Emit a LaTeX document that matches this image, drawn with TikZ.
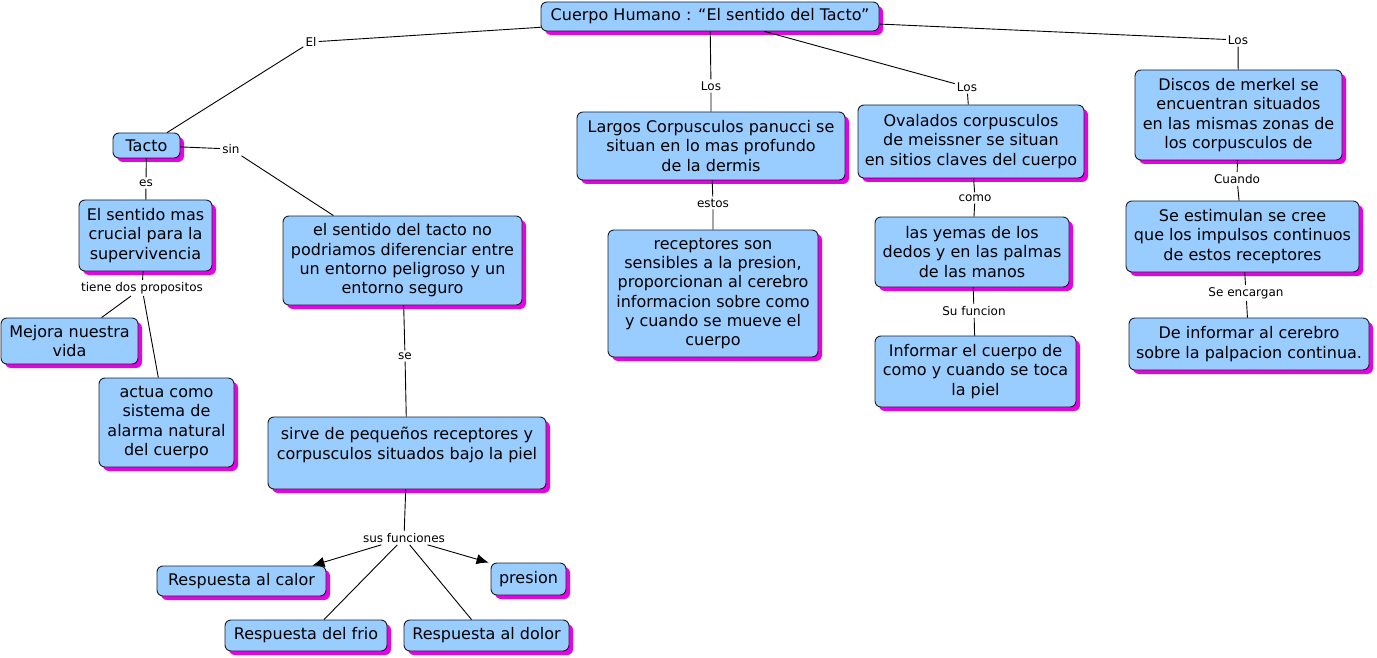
\documentclass[tikz,border=0pt]{standalone}
\usepackage{fontspec}
\setmainfont{DejaVu Sans}
\usetikzlibrary{arrows.meta, shadows}
\definecolor{conceptfill}{RGB}{153,204,255}
\definecolor{conceptdraw}{RGB}{30,30,40}
\definecolor{shadowmag}{RGB}{232,0,232}
\tikzset{
  concept/.style={rectangle, draw=conceptdraw, fill=conceptfill,
    align=center, rounded corners=6pt, line width=0.9pt, inner sep=3pt,
    font=\fontsize{16}{19.3}\selectfont,
    drop shadow={shadow xshift=4pt, shadow yshift=-4pt, fill=shadowmag, opacity=1}},
  linkword/.style={fill=white, inner sep=2pt, font=\fontsize{12}{13.5}\selectfont},
  link/.style={line width=0.9pt, color=black},
  linkarrow/.style={-{Latex[length=12pt, width=10.5pt]}, line width=0.9pt, color=black}
}

\begin{document}
\begin{tikzpicture}[x=1pt, y=-1pt]
  \useasboundingbox (0,0) rectangle (1377,658);

  % Concepts
  \node[concept, minimum width=338, minimum height=29] (top) at (710,16.5) {Cuerpo Humano : “El sentido del Tacto”};
  \node[concept, minimum width=67, minimum height=25] (tacto) at (146.5,145.5) {Tacto};
  \node[concept, minimum width=133, minimum height=71] (crucial) at (145.5,235.5) {El sentido mas\\crucial para la\\supervivencia};
  \node[concept, minimum width=137, minimum height=46] (mejora) at (69.5,341) {Mejora nuestra\\vida};
  \node[concept, minimum width=135, minimum height=89] (alarma) at (166.5,422.5) {actua como\\sistema de\\alarma natural\\del cuerpo};
  \node[concept, minimum width=239, minimum height=89] (entorno) at (402.5,260.5) {el sentido del tacto no\\podriamos diferenciar entre\\un entorno peligroso y un\\entorno seguro};
  \node[concept, minimum width=278, minimum height=72] (sirve) at (407,453) {sirve de pequeños receptores y\\corpusculos situados bajo la piel\\\mbox{}};
  \node[concept, minimum width=169, minimum height=30] (calor) at (241.5,581) {Respuesta al calor};
  \node[concept, minimum width=162, minimum height=31] (frio) at (306,635.5) {Respuesta del frio};
  \node[concept, minimum width=165, minimum height=31] (dolor) at (486.5,635.5) {Respuesta al dolor};
  \node[concept, minimum width=75, minimum height=32] (presion) at (528.5,579) {presion};
  \node[concept, minimum width=268, minimum height=68] (panucci) at (711,146) {Largos Corpusculos panucci se\\situan en lo mas profundo\\de la dermis};
  \node[concept, minimum width=210, minimum height=127] (receptores) at (713,293.5) {receptores son\\sensibles a la presion,\\proporcionan al cerebro\\informacion sobre como\\y cuando se mueve el\\cuerpo};
  \node[concept, minimum width=226, minimum height=73] (meissner) at (971,141.5) {Ovalados corpusculos\\de meissner se situan\\en sitios claves del cuerpo};
  \node[concept, minimum width=194, minimum height=70] (yemas) at (972,252) {las yemas de los\\dedos y en las palmas\\de las manos};
  \node[concept, minimum width=201, minimum height=71] (toca) at (975.5,371.5) {Informar el cuerpo de\\como y cuando se toca\\la piel};
  \node[concept, minimum width=207, minimum height=90] (merkel) at (1238.5,115) {Discos de merkel se\\encuentran situados\\en las mismas zonas de\\los corpusculos de};
  \node[concept, minimum width=233, minimum height=71] (impulsos) at (1242.5,236.5) {Se estimulan se cree\\que los impulsos continuos\\de estos receptores};
  \node[concept, minimum width=240, minimum height=52] (palpacion) at (1249,344) {De informar al cerebro\\sobre la palpacion continua.};

  % Linking words
  \node[linkword] (lEl) at (311,42) {El};
  \node[linkword] (lSin) at (231,149) {sin};
  \node[linkword] (lEs) at (146,183) {es};
  \node[linkword] (lTiene) at (142,288) {tiene dos propositos};
  \node[linkword] (lSe) at (405,356) {se};
  \node[linkword] (lSus) at (404,538) {sus funciones};
  \node[linkword] (lLosA) at (711,86) {Los};
  \node[linkword] (lEstos) at (713,203) {estos};
  \node[linkword] (lLosB) at (967,87) {Los};
  \node[linkword] (lComo) at (975,198) {como};
  \node[linkword] (lFuncion) at (974,311) {Su funcion};
  \node[linkword] (lLosC) at (1238,40) {Los};
  \node[linkword] (lCuando) at (1237,179) {Cuando};
  \node[linkword] (lEncargan) at (1246,293) {Se encargan};

  % Left branch
  \draw[link] (top) -- (lEl) (lEl) -- (tacto);
  \draw[link] (tacto) -- (lSin) (lSin) -- (entorno);
  \draw[link] (tacto) -- (lEs) (lEs) -- (crucial);
  \draw[link] (crucial) -- (lTiene) (lTiene) -- (mejora) (lTiene) -- (alarma);
  \draw[link] (entorno) -- (lSe) (lSe) -- (sirve);
  \draw[link] (sirve) -- (lSus);
  \draw[linkarrow] (lSus) -- ([xshift=-14pt]calor.north east);
  \draw[linkarrow] (lSus) -- ([xshift=-2pt]presion.north west);
  \draw[link] (lSus) -- ([xshift=18pt]frio.north);
  \draw[link] (lSus) -- ([xshift=-15pt]dolor.north);

  % Middle branches
  \draw[link] (top) -- (lLosA) (lLosA) -- (panucci);
  \draw[link] (panucci) -- (lEstos) (lEstos) -- (receptores);
  \draw[link] (top) -- (lLosB) (lLosB) -- (meissner);
  \draw[link] (meissner) -- (lComo) (lComo) -- (yemas);
  \draw[link] (yemas) -- (lFuncion) (lFuncion) -- (toca);

  % Right branch
  \draw[link] (top) -- (lLosC) (lLosC) -- (merkel);
  \draw[link] (merkel) -- (lCuando) (lCuando) -- (impulsos);
  \draw[link] (impulsos) -- (lEncargan) (lEncargan) -- (palpacion);
\end{tikzpicture}
\end{document}
